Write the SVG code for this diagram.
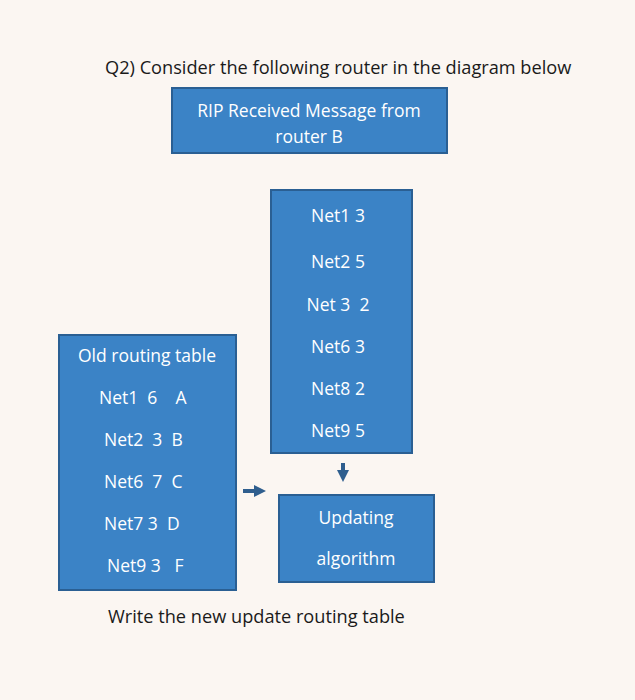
<svg xmlns="http://www.w3.org/2000/svg" width="635" height="700" viewBox="0 0 635 700" xml:space="preserve">
<style>
.box{fill:#3b83c6;stroke:#2a5f93;stroke-width:2}
.t{font-family:"Open Sans","Liberation Sans",sans-serif;font-size:17.5px;fill:#fff;white-space:pre}
.k{font-family:"Open Sans","Liberation Sans",sans-serif;font-size:18.2px;fill:#1a1a1a}
.c{stroke:#2f5e8e;stroke-width:4;fill:none}
</style>
<defs><marker id="a" markerWidth="3" markerHeight="3" refX="1.5" refY="1.5" orient="auto" markerUnits="strokeWidth"><path d="M0,0L3,1.5L0,3z" fill="#2f5e8e"/></marker></defs>
<rect width="635" height="700" fill="#fbf6f2"/>
<text class="k" x="105" y="74">Q2) Consider the following router in the diagram below</text>
<g id="rip"><rect class="box" x="172" y="88" width="275" height="65"/>
<text class="t" x="309" y="117" text-anchor="middle">RIP Received Message from</text>
<text class="t" x="309" y="143" text-anchor="middle">router B</text></g>
<g id="msg"><rect class="box" x="271" y="190" width="141" height="263"/>
<text class="t" x="338" y="222" text-anchor="middle">Net1 3</text>
<text class="t" x="338" y="268" text-anchor="middle">Net2 5</text>
<text class="t" x="338" y="311" text-anchor="middle">Net 3  2</text>
<text class="t" x="338" y="353" text-anchor="middle">Net6 3</text>
<text class="t" x="338" y="395" text-anchor="middle">Net8 2</text>
<text class="t" x="338" y="437" text-anchor="middle">Net9 5</text></g>
<g id="old"><rect class="box" x="59" y="335" width="177" height="255"/>
<text class="t" x="147" y="362" text-anchor="middle">Old routing table</text>
<text class="t" x="99" y="404">Net1  6    A</text>
<text class="t" x="104" y="446">Net2  3  B</text>
<text class="t" x="104" y="488">Net6  7  C</text>
<text class="t" x="104" y="530">Net7 3  D</text>
<text class="t" x="107" y="572">Net9 3   F</text></g>
<g id="algo"><rect class="box" x="279" y="495" width="155" height="87"/>
<text class="t" x="356" y="524" text-anchor="middle">Updating</text>
<text class="t" x="356" y="565" text-anchor="middle">algorithm</text></g>
<g id="connectors">
<line class="c" x1="243" y1="491" x2="260" y2="491" marker-end="url(#a)"/>
<line class="c" x1="343" y1="463" x2="343" y2="476" marker-end="url(#a)"/>
</g>
<text class="k" x="108" y="623">Write the new update routing table</text>
</svg>
